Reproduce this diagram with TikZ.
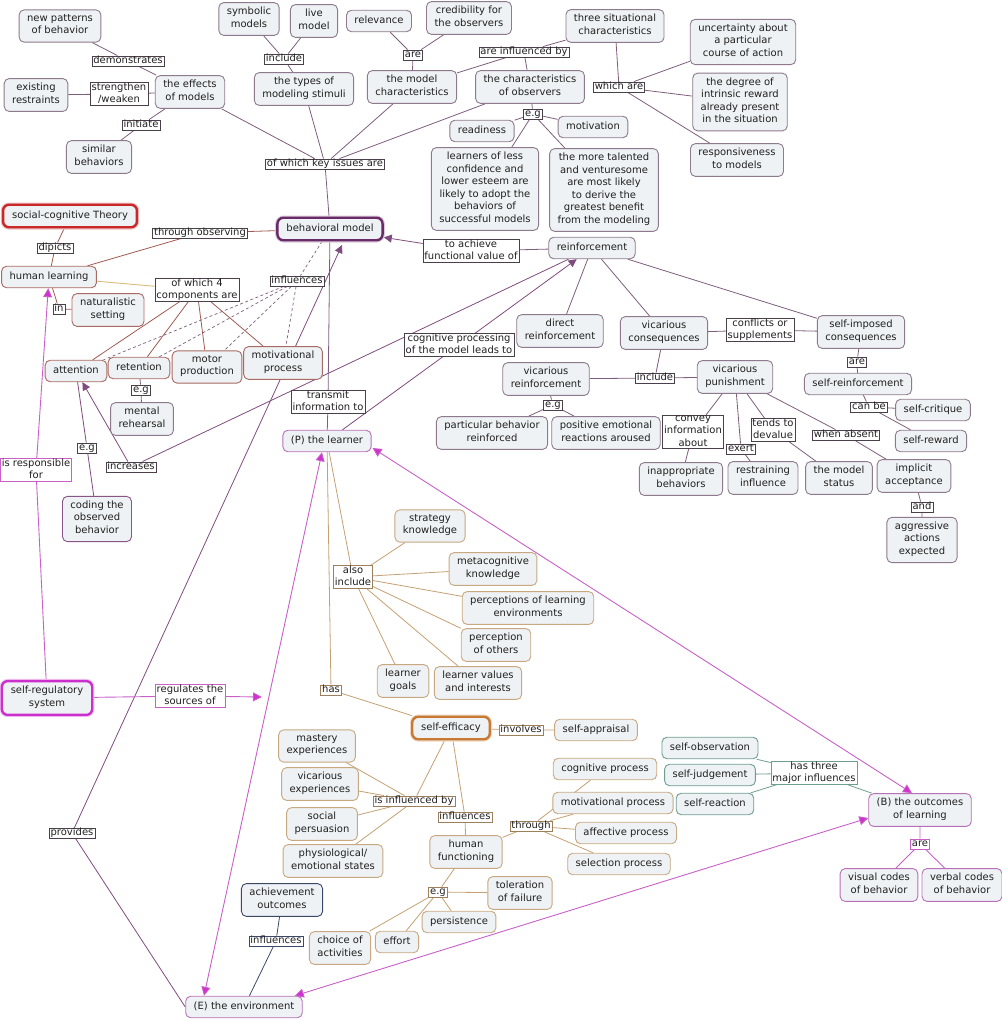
\documentclass[tikz,border=0pt]{standalone}
\usepackage{fontspec}
\setmainfont{DejaVu Sans}
\usetikzlibrary{arrows.meta}
\pgfdeclarelayer{bg}
\pgfsetlayers{bg,main}

\definecolor{nfill}{HTML}{EEF2F5}
\definecolor{cbord}{HTML}{8E7A8C}
\definecolor{cline}{HTML}{7E5E7C}
\definecolor{rbord}{HTML}{A86A62}
\definecolor{rline}{HTML}{A05A52}
\definecolor{yline}{HTML}{D8BC78}
\definecolor{tbord}{HTML}{C8A880}
\definecolor{tline}{HTML}{C4A072}
\definecolor{mbord}{HTML}{B870B8}
\definecolor{mline}{HTML}{C860C8}
\definecolor{marrow}{HTML}{D030D0}
\definecolor{gbord}{HTML}{6E9E90}
\definecolor{navyb}{HTML}{3C4868}
\definecolor{dpurp}{HTML}{6A2C68}
\definecolor{redb}{HTML}{C82828}
\definecolor{orangeb}{HTML}{C87A34}
\definecolor{magb}{HTML}{CC30CC}
\definecolor{labb}{HTML}{4A404A}
\definecolor{txt}{HTML}{202020}

\newcommand\lstr{\vrule width0pt height7.6pt depth2.2pt}

\begin{document}
\begin{tikzpicture}[x=1pt,y=-1pt,
  font=\fontsize{10}{12.5}\selectfont, text=txt,
  box/.style={rounded corners=5pt, fill=nfill, align=center, inner xsep=8pt,
    inner ysep=4.5pt, line width=0.9pt,
    execute at begin node=\strut, execute at end node=\strut},
  cn/.style={box, draw=cbord},
  rn/.style={box, draw=rbord},
  tn/.style={box, draw=tbord},
  mn/.style={box, draw=mbord},
  gn/.style={box, draw=gbord},
  nn/.style={box, draw=navyb},
  pn/.style={box, draw=dpurp!80},
  thick box/.style={box, line width=2.4pt, rounded corners=6pt, inner xsep=9pt, inner ysep=5pt},
  lab/.style={fill=white, draw=labb, line width=0.5pt, inner xsep=1.5pt,
    inner ysep=0.3pt, align=center,
    execute at begin node=\lstr, execute at end node=\lstr},
  labt/.style={lab, draw=tline!80!black},
  labm/.style={lab, draw=mline},
  labg/.style={lab, draw=gbord},
  labn/.style={lab, draw=navyb},
  cl/.style={draw=cline, line width=0.8pt},
  rl/.style={draw=rline, line width=0.8pt},
  yl/.style={draw=yline, line width=0.9pt},
  tl/.style={draw=tline, line width=0.8pt},
  gl/.style={draw=gbord, line width=0.8pt},
  nl/.style={draw=navyb, line width=0.8pt},
  ml/.style={draw=mline, line width=0.9pt},
  pl/.style={draw=dpurp!85, line width=0.8pt},
  dl/.style={draw=cline, line width=0.7pt, dashed, dash pattern=on 3pt off 2.5pt},
  tip/.style={-{Triangle[length=8pt,width=8pt]}},
  mtip/.style={{Triangle[length=9pt,width=9pt,fill=marrow]}-{Triangle[length=9pt,width=9pt,fill=marrow]}}
]
\useasboundingbox (0,0) rectangle (1002,1021);

% ---------- modelling: top area ----------
\node[cn] (np) at (60,26) {new patterns\\of behavior};
\node[cn] (er) at (36,95) {existing\\restraints};
\node[cn] (eff) at (190,92) {the effects\\of models};
\node[cn] (sim) at (99,157) {similar\\behaviors};
\node[cn] (sym) at (249,19) {symbolic\\models};
\node[cn] (live) at (314,21) {live\\model};
\node[cn] (types) at (304,89) {the types of\\modeling stimuli};
\node[cn] (rel) at (379,21) {relevance};
\node[cn] (cred) at (469,18) {credibility for\\the observers};
\node[cn] (mchar) at (412,87) {the model\\characteristics};
\node[cn] (ochar) at (530,87) {the characteristics\\of observers};
\node[cn] (three) at (615,26) {three situational\\characteristics};
\node[cn] (unc) at (743,42) {uncertainty about\\a particular\\course of action};
\node[cn] (deg) at (740,102) {the degree of\\intrinsic reward\\already present\\in the situation};
\node[cn] (resp) at (737,160) {responsiveness\\to models};
\node[cn] (ready) at (482,131) {readiness};
\node[cn] (motiv) at (593,127) {motivation};
\node[cn] (less) at (485,189) {learners of less\\confidence and\\lower esteem are\\likely to adopt the\\behaviors of\\successful models};
\node[cn] (tal) at (604,190) {the more talented\\and venturesome\\are most likely\\to derive the\\greatest benefit\\from the modeling};

\node[lab] (ldem) at (128,61) {demonstrates};
\node[lab] (lsw) at (119,94) {strengthen\\/weaken};
\node[lab] (linit) at (141,125) {initiate};
\node[lab] (linc) at (284,59) {include};
\node[lab] (lare1) at (413,55) {are};
\node[lab] (laib) at (524,52) {are influenced by};
\node[lab] (lwa) at (619,87) {which are};
\node[lab] (leg1) at (533,114) {e.g};
\node[lab] (lkey) at (325,164) {of which key issues are};

% ---------- theory and behavioral model ----------
\node[thick box, draw=redb, preaction={draw=redb!30, line width=4.5pt}] (sct) at (70,216) {social-cognitive Theory};
\node[thick box, draw=dpurp, preaction={draw=dpurp!25, line width=4.5pt}] (bm) at (330,229) {behavioral model};
\coordinate (bmfoot) at (342,245);
\node[rn] (hl) at (49,277) {human learning};
\node[rn] (nat) at (108,310) {naturalistic\\setting};
\node[rn] (att) at (76,371) {attention};
\node[rn] (ret) at (139,368) {retention};
\node[rn] (motor) at (207,367) {motor\\production};
\node[rn] (mproc) at (283,363) {motivational\\process};
\node[cn] (ment) at (142,419) {mental\\rehearsal};
\node[pn] (coding) at (97,519) {coding the\\observed\\behavior};

\node[lab] (ldip) at (55,248) {dipicts};
\node[lab] (ltho) at (200,233) {through observing};
\node[lab] (l4c) at (197,290) {of which 4\\components are};
\node[lab] (linfl) at (297,281) {influences};
\node[lab] (lin) at (59,309) {in};
\node[lab] (leg2) at (141,390) {e.g};
\node[lab] (leg3) at (87,448) {e.g};
\node[lab] (lincr) at (131,467) {increases};
\node[labm] (lresp) at (36,470) {is responsible\\for};
\node[lab] (ltr) at (328,402) {transmit\\information to};

% ---------- reinforcement ----------
\node[cn] (reinf) at (592,248) {reinforcement};
\node[cn] (dir) at (560,331) {direct\\reinforcement};
\node[cn] (vcon) at (664,333) {vicarious\\consequences};
\node[cn] (sic) at (861,332) {self-imposed\\consequences};
\node[cn] (vrein) at (546,379) {vicarious\\reinforcement};
\node[cn] (vpun) at (735,377) {vicarious\\punishment};
\node[cn] (sref) at (858,384) {self-reinforcement};
\node[cn] (scrit) at (933,410) {self-critique};
\node[cn] (srew) at (931,441) {self-reward};
\node[cn] (pbr) at (492,433) {particular behavior\\reinforced};
\node[cn] (per) at (606,433) {positive emotional\\reactions aroused};
\node[cn] (inap) at (681,479) {inappropriate\\behaviors};
\node[cn] (restr) at (763,478) {restraining\\influence};
\node[cn] (mstat) at (839,478) {the model\\status};
\node[cn] (impl) at (914,476) {implicit\\acceptance};
\node[cn] (aggr) at (922,540) {aggressive\\actions\\expected};

\node[lab] (lach) at (471,251) {to achieve\\functional value of};
\node[lab] (lcog) at (459,345) {cognitive processing\\of the model leads to};
\node[lab] (lcs) at (760,330) {conflicts or\\supplements};
\node[lab] (lincl) at (655,378) {include};
\node[lab] (leg4) at (553,405) {e.g};
\node[lab] (lare2) at (857,362) {are};
\node[lab] (lcan) at (869,407) {can be};
\node[lab] (lconv) at (693,432) {convey\\information\\about};
\node[lab] (lexert) at (741,449) {exert};
\node[lab] (ltend) at (773,430) {tends to\\devalue};
\node[lab] (lwhen) at (846,435) {when absent};
\node[lab] (land) at (922,507) {and};

% ---------- learner, behavior, environment ----------
\node[mn] (P) at (327,441) {(P) the learner};
\node[mn] (B) at (920,810) {(B) the outcomes\\of learning};
\node[mn] (E) at (244,1007) {(E) the environment};
\node[mn] (vis) at (879,885) {visual codes\\of behavior};
\node[mn] (verb) at (962,885) {verbal codes\\of behavior};
\node[thick box, draw=magb, preaction={draw=magb!25, line width=4.5pt}] (srs) at (47,698) {self-regulatory\\system};
\coordinate (regend) at (262,697);

\node[tn] (strat) at (430,526) {strategy\\knowledge};
\node[tn] (meta) at (493,569) {metacognitive\\knowledge};
\node[tn] (pler) at (528,608) {perceptions of learning\\environments};
\node[tn] (poth) at (496,645) {perception\\of others};
\node[tn] (lgoal) at (403,681) {learner\\goals};
\node[tn] (lval) at (478,683) {learner values\\and interests};
\node[thick box, draw=orangeb, preaction={draw=orangeb!30, line width=4.5pt}] (se) at (451,728) {self-efficacy};
\node[tn] (sapp) at (596,730) {self-appraisal};
\node[tn] (mast) at (317,746) {mastery\\experiences};
\node[tn] (vexp) at (320,784) {vicarious\\experiences};
\node[tn] (soc) at (322,824) {social\\persuasion};
\node[tn] (phys) at (333,861) {physiological/\\emotional states};
\node[tn] (hf) at (466,852) {human\\functioning};
\node[tn] (cog) at (605,769) {cognitive process};
\node[tn] (mot) at (613,803) {motivational process};
\node[tn] (aff) at (626,833) {affective process};
\node[tn] (sel) at (619,864) {selection process};
\node[tn] (tol) at (520,893) {toleration\\of failure};
\node[tn] (pers) at (459,922) {persistence};
\node[tn] (effort) at (397,942) {effort};
\node[tn] (choice) at (340,948) {choice of\\activities};
\node[gn] (sobs) at (710,748) {self-observation};
\node[gn] (sjud) at (710,775) {self-judgement};
\node[gn] (sreac) at (715,804) {self-reaction};
\node[nn] (ach) at (282,900) {achievement\\outcomes};

\node[labt] (lalso) at (353,577) {also\\include};
\node[labt] (lhas) at (331,690) {has};
\node[labm] (lreg) at (190,696) {regulates the\\sources of};
\node[labt] (linvo) at (521,730) {involves};
\node[labt] (lisinf) at (414,801) {is influenced by};
\node[labt] (linfl2) at (465,817) {influences};
\node[labt] (lthr) at (531,826) {through};
\node[labt] (leg5) at (438,892) {e.g};
\node[labg] (lh3) at (814,773) {has three\\major influences};
\node[labm] (lare3) at (920,844) {are};
\node[lab] (lprov) at (72,833) {provides};
\node[labn] (linfl3) at (276,941) {influences};

% ---------- connectors ----------
\begin{pgfonlayer}{bg}
\draw[cl] (np) -- (ldem) (ldem) -- (eff);
\draw[cl] (er) -- (lsw) (lsw) -- (eff);
\draw[cl] (eff) -- (linit) (linit) -- (sim);
\draw[cl] (types) -- (linc) (linc) -- (sym) (linc) -- (live);
\draw[cl] (mchar) -- (lare1) (lare1) -- (rel) (lare1) -- (cred);
\draw[cl] (mchar) -- (laib) (laib) -- (ochar) (laib) -- (three);
\draw[cl] (three) -- (lwa) (lwa) -- (unc) (lwa) -- (deg) (lwa) -- (resp);
\draw[cl] (ochar) -- (leg1) (leg1) -- (ready) (leg1) -- (motiv) (leg1) -- (less) (leg1) -- (tal);
\draw[cl] (bm) -- (lkey) (lkey) -- (eff) (lkey) -- (types) (lkey) -- (mchar) (lkey) -- (ochar);

\draw[rl] (sct) -- (ldip) (ldip) -- (hl);
\draw[rl] (hl) -- (ltho) (ltho) -- (bm);
\draw[yl] (hl) -- (l4c);
\draw[rl] (l4c) -- (att) (l4c) -- (ret) (l4c) -- (motor) (l4c) -- (mproc);
\draw[rl] (hl) -- (lin) (lin) -- (nat);
\draw[cl] (ret) -- (leg2) (leg2) -- (ment);
\draw[pl] (att) -- (leg3) (leg3) -- (coding);
\draw[dl] (bm) -- (linfl) (linfl) -- (att) (linfl) -- (ret) (linfl) -- (motor) (linfl) -- (mproc);
\draw[cl] (bm) -- (ltr) (ltr) -- (P);
\draw[pl] (E.west) -- (lprov);
\draw[pl, tip] (lprov) -- (bmfoot);

\draw[cl] (reinf) -- (lach);
\draw[pl, tip] (lach) -- (bm);
\draw[pl] (P) -- (lcog);
\draw[pl, tip] (lcog) -- (reinf);
\draw[pl] (reinf) -- (lincr);
\draw[pl, tip] (lincr) -- (att);
\draw[cl] (reinf) -- (dir) (reinf) -- (vcon) (reinf) -- (sic);
\draw[cl] (vcon) -- (lcs) (lcs) -- (sic);
\draw[cl] (vcon) -- (lincl) (lincl) -- (vrein) (lincl) -- (vpun);
\draw[cl] (vrein) -- (leg4) (leg4) -- (pbr) (leg4) -- (per);
\draw[cl] (vpun) -- (lconv) (lconv) -- (inap);
\draw[cl] (vpun) -- (lexert) (lexert) -- (restr);
\draw[cl] (vpun) -- (ltend) (ltend) -- (mstat);
\draw[cl] (vpun) -- (lwhen) (lwhen) -- (impl);
\draw[cl] (impl) -- (land) (land) -- (aggr);
\draw[cl] (sic) -- (lare2) (lare2) -- (sref);
\draw[cl] (sref) -- (lcan) (lcan) -- (scrit) (lcan) -- (srew);

\draw[tl] (P) -- (lalso);
\draw[tl] (lalso) -- (strat) (lalso) -- (meta) (lalso) -- (pler) (lalso) -- (poth) (lalso) -- (lgoal) (lalso) -- (lval);
\draw[tl] (P) -- (lhas) (lhas) -- (se);
\draw[tl] (se) -- (linvo) (linvo) -- (sapp);
\draw[tl] (se) -- (lisinf) (lisinf) -- (mast) (lisinf) -- (vexp) (lisinf) -- (soc) (lisinf) -- (phys);
\draw[tl] (se) -- (linfl2) (linfl2) -- (hf);
\draw[tl] (hf) -- (lthr) (lthr) -- (cog) (lthr) -- (mot) (lthr) -- (aff) (lthr) -- (sel);
\draw[tl] (hf) -- (leg5) (leg5) -- (tol) (leg5) -- (pers) (leg5) -- (effort) (leg5) -- (choice);
\draw[gl] (sobs) -- (lh3) (sjud) -- (lh3) (sreac) -- (lh3) (lh3) -- (B);
\draw[ml] (B) -- (lare3) (lare3) -- (vis) (lare3) -- (verb);
\draw[nl] (ach) -- (linfl3) (linfl3) -- (E);

\draw[ml, mtip] ([xshift=1pt,yshift=-7pt]P.east) -- ([xshift=-8pt]B.north);
\draw[ml, mtip] ([xshift=-5pt]P.south) -- ([xshift=-40pt]E.north);
\draw[ml, mtip] ([xshift=-8pt]E.north east) -- ([yshift=-8pt]B.west);
\draw[ml] (srs) -- (lresp);
\draw[ml, -{Triangle[length=9pt,width=9pt,fill=marrow]}] (lresp) -- (hl);
\draw[ml] (srs) -- (lreg);
\draw[ml, -{Triangle[length=9pt,width=9pt,fill=marrow]}] (lreg) -- (regend);
\end{pgfonlayer}
\end{tikzpicture}
\end{document}
